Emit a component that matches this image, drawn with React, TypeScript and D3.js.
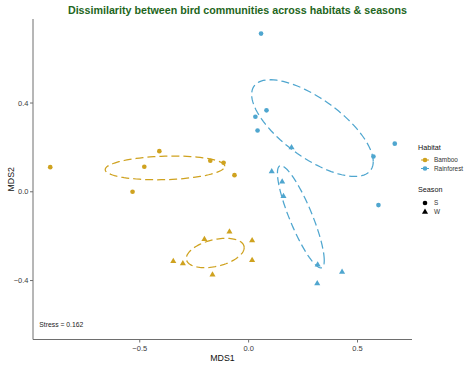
import { useEffect, useRef } from 'react';
import * as d3 from 'd3';

const W = 474;
const H = 368;
const PANEL = { left: 33, right: 412, top: 19, bottom: 339.5 };
const FONT = "'Liberation Sans', Arial, sans-serif";

const HABITATS = ['Bamboo', 'Rainforest'];
const SEASONS = ['S', 'W'];
const HABITAT_COLORS = ['#CFA21F', '#4FA6CF'];

// [MDS1, MDS2] per site
const BAMBOO_S: [number, number][] = [
  [-0.911, 0.111], [-0.41, 0.183], [-0.479, 0.113], [-0.533, 0.0],
  [-0.176, 0.14], [-0.115, 0.131], [-0.065, 0.075],
];
const BAMBOO_W: [number, number][] = [
  [-0.346, -0.313], [-0.302, -0.323], [-0.203, -0.214], [-0.088, -0.18],
  [0.016, -0.219], [0.016, -0.309], [-0.166, -0.374],
];
const RAINFOREST_S: [number, number][] = [
  [0.057, 0.713], [0.082, 0.367], [0.031, 0.338], [0.041, 0.276],
  [0.573, 0.159], [0.671, 0.217], [0.596, -0.06],
];
const RAINFOREST_W: [number, number][] = [
  [0.197, 0.2], [0.106, 0.091], [0.154, 0.045], [0.16, -0.02],
  [0.317, -0.329], [0.429, -0.362], [0.315, -0.413],
];

const X_TICKS = [-0.5, 0, 0.5];
const Y_TICKS = [-0.4, 0, 0.4];
const STRESS_LABEL = 'Stress = 0.162';
const STRESS_POS: [number, number] = [-0.86, -0.6];

const GROUPS = [
  { habitat: 0, season: 0, pts: BAMBOO_S },
  { habitat: 0, season: 1, pts: BAMBOO_W },
  { habitat: 1, season: 0, pts: RAINFOREST_S },
  { habitat: 1, season: 1, pts: RAINFOREST_W },
];

// 1-sd covariance ellipse (population covariance)
function ellipse(pts: [number, number][]) {
  const n = pts.length;
  const mx = d3.mean(pts, (p) => p[0])!;
  const my = d3.mean(pts, (p) => p[1])!;
  let sxx = 0, syy = 0, sxy = 0;
  pts.forEach(([x, y]) => {
    sxx += (x - mx) ** 2;
    syy += (y - my) ** 2;
    sxy += (x - mx) * (y - my);
  });
  sxx /= n; syy /= n; sxy /= n;
  const a = Math.sqrt(sxx);
  const b = sxy / a;
  const c = Math.sqrt(Math.max(0, syy - b * b));
  return d3.range(0, 101).map((i) => {
    const t = (i / 100) * 2 * Math.PI;
    return [mx + a * Math.cos(t), my + b * Math.cos(t) + c * Math.sin(t)] as [number, number];
  });
}

export default function App() {
  const svgRef = useRef<SVGSVGElement>(null);

  useEffect(() => {
    const svg = d3.select(svgRef.current);
    svg.selectAll('*').remove();

    const all = [...BAMBOO_S, ...BAMBOO_W, ...RAINFOREST_S, ...RAINFOREST_W, STRESS_POS];
    const [x0, x1] = d3.extent(all, (p) => p[0]) as [number, number];
    const [y0, y1] = d3.extent(all, (p) => p[1]) as [number, number];
    const px = (x1 - x0) * 0.05;
    const py = (y1 - y0) * 0.05;
    const x = d3.scaleLinear().domain([x0 - px, x1 + px]).range([PANEL.left, PANEL.right]);
    const y = d3.scaleLinear().domain([y0 - py, y1 + py]).range([PANEL.bottom, PANEL.top]);

    svg.append('rect').attr('width', W).attr('height', H).attr('fill', '#fff');

    // title
    svg.append('text')
      .attr('x', 237.5).attr('y', 13.5)
      .attr('text-anchor', 'middle')
      .attr('font-family', FONT).attr('font-weight', 'bold').attr('font-size', 10.7)
      .attr('fill', '#1E6621')
      .text('Dissimilarity between bird communities across habitats & seasons');

    // axes
    const axisColor = '#6e6e6e';
    svg.append('line')
      .attr('x1', PANEL.left).attr('x2', PANEL.left)
      .attr('y1', PANEL.top).attr('y2', PANEL.bottom)
      .attr('stroke', axisColor).attr('stroke-width', 1);
    svg.append('line')
      .attr('x1', PANEL.left).attr('x2', PANEL.right)
      .attr('y1', PANEL.bottom).attr('y2', PANEL.bottom)
      .attr('stroke', axisColor).attr('stroke-width', 1);

    X_TICKS.forEach((t) => {
      svg.append('line')
        .attr('x1', x(t)).attr('x2', x(t))
        .attr('y1', PANEL.bottom).attr('y2', PANEL.bottom + 3)
        .attr('stroke', axisColor);
      svg.append('text')
        .attr('x', x(t)).attr('y', PANEL.bottom + 11.5)
        .attr('text-anchor', 'middle')
        .attr('font-family', FONT).attr('font-size', 7.5).attr('fill', '#3a3a3a')
        .text(d3.format('.1f')(t));
    });
    Y_TICKS.forEach((t) => {
      svg.append('line')
        .attr('x1', PANEL.left - 3).attr('x2', PANEL.left)
        .attr('y1', y(t)).attr('y2', y(t))
        .attr('stroke', axisColor);
      svg.append('text')
        .attr('x', PANEL.left - 4.5).attr('y', y(t) + 2.7)
        .attr('text-anchor', 'end')
        .attr('font-family', FONT).attr('font-size', 7.5).attr('fill', '#3a3a3a')
        .text(d3.format('.1f')(t));
    });

    svg.append('text')
      .attr('x', (PANEL.left + PANEL.right) / 2).attr('y', 361)
      .attr('text-anchor', 'middle')
      .attr('font-family', FONT).attr('font-size', 8.8).attr('fill', '#111')
      .text('MDS1');
    svg.append('text')
      .attr('transform', `translate(13.5,${(PANEL.top + PANEL.bottom) / 2}) rotate(-90)`)
      .attr('text-anchor', 'middle')
      .attr('font-family', FONT).attr('font-size', 8.8).attr('fill', '#111')
      .text('MDS2');

    // ellipses
    const line = d3.line<[number, number]>().x((d) => x(d[0])).y((d) => y(d[1]));
    GROUPS.forEach((g) => {
      svg.append('path')
        .attr('d', line(ellipse(g.pts)))
        .attr('fill', 'none')
        .attr('stroke', HABITAT_COLORS[g.habitat])
        .attr('stroke-width', 1.25)
        .attr('stroke-dasharray', '8,4');
    });

    // points
    const circle = d3.symbol(d3.symbolCircle, 17);
    const tri = d3.symbol(d3.symbolTriangle, 16);
    GROUPS.forEach((g) => {
      svg.append('g').selectAll('path')
        .data(g.pts)
        .enter()
        .append('path')
        .attr('d', g.season === 0 ? circle() : tri())
        .attr('transform', (d) => `translate(${x(d[0])},${y(d[1])})`)
        .attr('fill', HABITAT_COLORS[g.habitat]);
    });

    // stress annotation
    svg.append('text')
      .attr('x', x(STRESS_POS[0])).attr('y', y(STRESS_POS[1]) + 2.4)
      .attr('text-anchor', 'middle')
      .attr('font-family', FONT).attr('font-size', 6.8).attr('fill', '#222')
      .text(STRESS_LABEL);

    // legend
    const lg = svg.append('g').attr('transform', 'translate(418,0)');
    lg.append('text').attr('x', 0).attr('y', 149.5)
      .attr('font-family', FONT).attr('font-size', 7.2).attr('fill', '#111')
      .text('Habitat');
    HABITATS.forEach((h, i) => {
      const cy = 160 + i * 8.5;
      lg.append('line')
        .attr('x1', 3).attr('x2', 11).attr('y1', cy).attr('y2', cy)
        .attr('stroke', HABITAT_COLORS[i]).attr('stroke-width', 1);
      lg.append('path')
        .attr('d', circle())
        .attr('transform', `translate(7,${cy})`)
        .attr('fill', HABITAT_COLORS[i]);
      lg.append('text').attr('x', 16).attr('y', cy + 2.2)
        .attr('font-family', FONT).attr('font-size', 6.4).attr('fill', '#333')
        .text(h);
    });
    lg.append('text').attr('x', 0).attr('y', 191.5)
      .attr('font-family', FONT).attr('font-size', 7.2).attr('fill', '#111')
      .text('Season');
    SEASONS.forEach((s, i) => {
      const cy = 203 + i * 9;
      lg.append('path')
        .attr('d', i === 0 ? circle() : tri())
        .attr('transform', `translate(7,${cy})`)
        .attr('fill', '#000');
      lg.append('text').attr('x', 16).attr('y', cy + 2.2)
        .attr('font-family', FONT).attr('font-size', 6.4).attr('fill', '#333')
        .text(s);
    });
  }, []);

  return (
    <svg
      ref={svgRef}
      width={W}
      height={H}
      style={{ position: 'absolute', left: 0, top: 0, display: 'block' }}
    />
  );
}
